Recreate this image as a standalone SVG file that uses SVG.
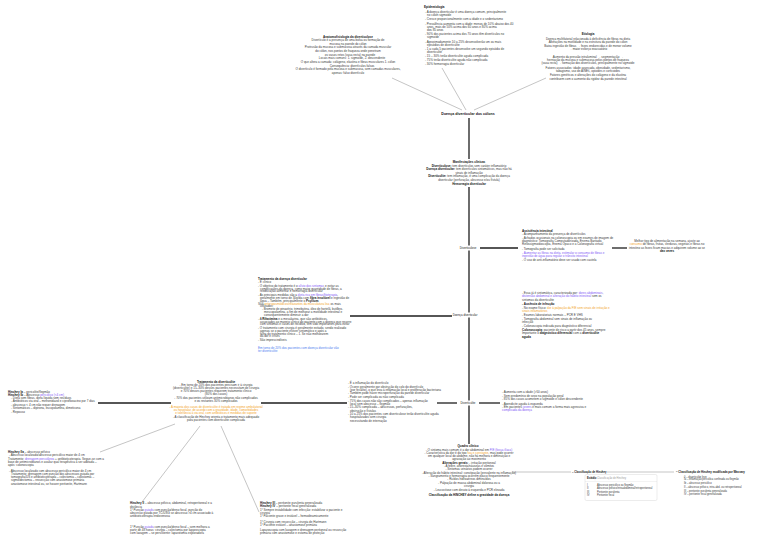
<svg xmlns="http://www.w3.org/2000/svg" width="768" height="544" viewBox="0 0 768 544">
<style>
text{font-family:"Liberation Sans",Arial,sans-serif;font-size:3px;fill:#3a3a3a}
.b{font-weight:bold;fill:#111}
.m{text-anchor:middle}
.pu{fill:#8257f5}
.or{fill:#f2a428}
.bl{fill:#4a7bef}
.g{fill:#9a9a9a}
.lbl{font-size:2.9px;fill:#222}
.ttl{font-size:3.6px;font-weight:bold;fill:#111}
.sm{font-size:2.6px}
.k{stroke:#1e1e1e;stroke-width:1.3;fill:none}
.n{stroke:#8a8a8a;stroke-width:0.5;fill:none}
</style>
<rect width="768" height="544" fill="#fff"/>
<g id="connectors">
<line class="n" x1="442" y1="68" x2="466" y2="110"/>
<line class="n" x1="392" y1="78" x2="462" y2="110"/>
<line class="n" x1="546" y1="78" x2="474" y2="110"/>
<line class="k" x1="469" y1="118" x2="469" y2="159"/>
<line class="k" x1="469" y1="187" x2="469" y2="444"/>
<line class="k" x1="480" y1="248" x2="518" y2="248"/>
<line class="k" x1="612" y1="248" x2="627" y2="248"/>
<line class="k" x1="350" y1="316" x2="452" y2="316"/>
<line class="k" x1="437" y1="403" x2="457" y2="403"/>
<line class="k" x1="261" y1="403" x2="347" y2="403"/>
<line class="k" x1="98" y1="403" x2="171" y2="403"/>
<line class="k" x1="479" y1="403" x2="500" y2="403"/>
<line class="n" x1="100" y1="452" x2="175" y2="424"/>
<line class="n" x1="200" y1="426" x2="142" y2="502"/>
<line class="n" x1="221" y1="426" x2="259" y2="512"/>
<line class="n" x1="512" y1="472" x2="571" y2="472"/>
<line class="n" x1="607" y1="472" x2="674" y2="472"/>
</g>
<g id="titulo"><text x="468" y="115.3" class="ttl m">Doença diverticular dos cólons</text></g>
<g id="epidemiologia">
<text x="424" y="8" class="b">Epidemiologia</text>
<text x="425" y="13">- A doença diverticular é uma doença comum, principalmente</text>
<text x="427" y="16.2">no cólon sigmoide</text>
<text x="425" y="20.4">- Cresce proporcionalmente com a idade e o sedentarismo</text>
<text x="425" y="24.6">- Prevalência aumenta com a idade: menos de 10% abaixo dos 40</text>
<text x="427" y="27.8">anos, mais de 50% acima dos 60 anos e 80% acima</text>
<text x="427" y="31">dos 85 anos</text>
<text x="425" y="35.2">- 90% dos pacientes acima dos 70 anos têm divertículos no</text>
<text x="427" y="38.4">sigmoide</text>
<text x="425" y="42.6">- Aproximadamente 10 a 25% desenvolverão um ou mais</text>
<text x="427" y="45.8">episódios de diverticulite</text>
<text x="425" y="50">- 1 a cada 5 pacientes desenvolve um segundo episódio de</text>
<text x="427" y="53.2">diverticulite</text>
<text x="425" y="57.4">- 15 – 30% terão diverticulite aguda complicada</text>
<text x="425" y="60.6">- 75% terão diverticulite aguda não complicada</text>
<text x="425" y="64.8">- 30% hemorragia diverticular</text>
</g>
<g id="anatomofisiologia">
<text x="348" y="37.5" class="b m">Anatomofisiologia da diverticulose</text>
<text x="348" y="41.3" class="m">Divertículo é a presença de uma bolsa ou formação de</text>
<text x="348" y="44.6" class="m">mucosa na parede do cólon</text>
<text x="348" y="48.3" class="m">Protrusão da mucosa e submucosa através da camada muscular</text>
<text x="348" y="51.6" class="m">do cólon, nos pontos de fraqueza onde penetram</text>
<text x="350" y="55.6" class="m">os vasos retos (vasa recta) na parede</text>
<text x="352" y="59.2" class="m">Locais mais comuns: 1. sigmoide, 2. descendente</text>
<text x="348" y="62.6" class="m">O que altera a camada: colágeno, elastina e fibras musculares  1. cólon</text>
<text x="352" y="67" class="m">Consequência: divertículos falsos</text>
<text x="348" y="70.4" class="m">O divertículo é formado pela mucosa e submucosa, sem camadas musculares,</text>
<text x="348" y="74.4" class="m">apenas: falso divertículo</text>
</g>
<g id="etiologia">
<text x="588" y="35" class="b m">Etiologia</text>
<text x="588" y="39.5" class="m">Doença multifatorial relacionada à deficiência de fibras na dieta</text>
<text x="588" y="43" class="m">Alterações na motilidade e na estrutura da parede do cólon</text>
<text x="588" y="46.5" class="m">Baixa ingestão de fibras → fezes endurecidas e de menor volume</text>
<text x="588" y="50" class="m">→ maior esforço evacuatório</text>
<text x="588" y="57.5" class="m">Aumento da pressão intraluminal → segmentação →</text>
<text x="588" y="60.8" class="m">herniação da mucosa e submucosa pelos pontos de fraqueza</text>
<text x="588" y="64.1" class="m">(vasa recta) → formação dos divertículos, principalmente no sigmoide</text>
<text x="588" y="68.5" class="m">Fatores associados: idade avançada, obesidade, sedentarismo,</text>
<text x="588" y="71.8" class="m">tabagismo, uso de AINEs, opioides e corticoides</text>
<text x="588" y="76.2" class="m">Fatores genéticos e alterações do colágeno e da elastina</text>
<text x="588" y="79.5" class="m">contribuem com o aumento da rigidez da parede intestinal</text>
</g>
<g id="manifestacoes">
<text x="469" y="163" class="b m">Manifestações clínicas</text>
<text x="469" y="166.5" class="m"><tspan class="b">Diverticulose:</tspan> tem divertículos sem caráter inflamatório</text>
<text x="469" y="170.3" class="m"><tspan class="b">Doença diverticular:</tspan> tem divertículos sintomáticos, mas não há</text>
<text x="469" y="173.5" class="m">sinais de inflamação</text>
<text x="469" y="177.3" class="m"><tspan class="b">Diverticulite:</tspan> tem inflamação, é uma complicação da doença</text>
<text x="469" y="180.5" class="m">diverticular (perfuração, abscesso e/ou fístula)</text>
<text x="469" y="184.6" class="b m">Hemorragia diverticular</text>
</g>
<g id="diverticulose">
<rect x="457" y="245.5" width="23" height="5" fill="#fff"/>
<text x="468" y="249.1" class="lbl m">Diverticulose</text>
</g>
<g id="assistencia">
<text x="522" y="232" class="b">Assistência intestinal</text>
<text x="522" y="235.3">- Acompanhamento da presença de divertículos</text>
<text x="522" y="238.8">- Achados ocasionais na colonoscopia ou em exames de imagem de</text>
<text x="522" y="241.9">diagnóstico: Tomografia Computadorizada, Enema Baritado,</text>
<text x="522" y="245">Retossigmoidoscopia, Enema Opaco e a Colonografia virtual</text>
<text x="522" y="249.8">- Tomografia pode ser solicitada</text>
<text x="522" y="253.5" class="pu">- Aumentar as fibras na dieta, estimular o consumo de fibras e</text>
<text x="522" y="256.7" class="pu">ingestão de água para regular o trânsito intestinal</text>
<text x="522" y="260.5">- O uso de anti-inflamatório deve ser usado com cautela</text>
</g>
<g id="nota-alimentacao">
<text x="667" y="241.5" class="m">Melhor tipo de alimentação na semana, ajuste ao</text>
<text x="667" y="245" class="m"><tspan class="or">consumo</tspan> de fibras, frutas, verduras, vegetais e fibras no</text>
<text x="667" y="248.5" class="m">intestino as fezes ficam macias e adquirem volume ao se</text>
<text x="667" y="252.3" class="b m">das vezes</text>
</g>
<g id="doenca-diverticular">
<rect x="452" y="312.5" width="27" height="5" fill="#fff"/>
<text x="465" y="316.1" class="lbl m">Doença diverticular</text>
</g>
<g id="diagnostico">
<text x="522" y="294">- Essa já é sintomática, caracterizada por: <tspan class="pu">dores abdominais,</tspan></text>
<text x="522" y="297.4"><tspan class="pu">distensão abdominal e alteração do hábito intestinal</tspan> sem os</text>
<text x="522" y="300.8">sintomas da diverticulite</text>
<text x="522" y="304.6" class="b">- Ausência de infecção</text>
<text x="522" y="308.6">- No exame físico: <tspan class="or">dor à palpação da FIE sem sinais de irritação e</tspan></text>
<text x="522" y="311.9" class="or">sinais inflamatórios</text>
<text x="522" y="316.2">- Exames laboratoriais normais – PCR E VHS</text>
<text x="522" y="319.6">- Tomografia abdominal sem sinais de inflamação ou</text>
<text x="522" y="322.9">infecção</text>
<text x="522" y="327">- Colonoscopia indicada para diagnóstico diferencial</text>
<text x="522" y="330.8"><tspan class="b">Colonoscopia:</tspan> paciente de risco a partir dos 45 anos, sempre</text>
<text x="522" y="334.4">Importante o <tspan class="b">diagnóstico diferencial</tspan> com a <tspan class="b">diverticulite</tspan></text>
<text x="522" y="338.4" class="b">aguda</text>
</g>
<g id="tratamento-doenca">
<text x="258" y="280" class="b">Tratamento da doença diverticular</text>
<text x="258" y="283.3">- É clínico</text>
<text x="258" y="286.8">- O objetivo do tratamento é o <tspan class="pu">alívio dos sintomas</tspan> e evitar as</text>
<text x="260" y="289.6">complicações da doença, como maior quantidade de fibras, a</text>
<text x="260" y="292.4">reeducação alimentar e hemorragia diverticular</text>
<text x="258" y="296">- As principais medidas são a <tspan class="pu">dieta rica em fibras/fitoterapia</tspan>,</text>
<text x="260" y="298.8">geralmente em torno de 30g/dia com <tspan class="b">fibra insolúvel</tspan> e ingestão de</text>
<text x="260" y="301.6">água – Também, principalmente o <tspan class="b">Psyllium</tspan>.</text>
<text x="258" y="304.6">São <tspan class="or">antiespasmódicos/relaxantes da musculatura lisa</tspan> os mais</text>
<text x="260" y="307.4">utilizados:</text>
<text x="262" y="310.4">- Brometo de pinavério, trimebutina, óleo de hortelã, butilbro-</text>
<text x="264" y="313.2">mescopolamina, a fim de melhorar a motilidade intestinal e</text>
<text x="264" y="316">consequentemente diminuir a dor</text>
<text x="258" y="319.8">- A <tspan class="b">Rifaximina</tspan> e a mesalazina, que são antibióticos,</text>
<text x="260" y="322.6">associados ao manejo clínico do paciente com a doença que recorre</text>
<text x="260" y="325.4">com sintomas e casos de recidiva, têm sido importantes para evitar</text>
<text x="258" y="329">- O tratamento com cirurgia é geralmente evitado, sendo realizado</text>
<text x="260" y="331.8">apenas se o paciente estiver sintomático e após a</text>
<text x="260" y="334.6">falha do tratamento clínico – 1. Se não melhorarem</text>
<text x="260" y="337.4">da dor e crises</text>
<text x="258" y="341">- São imprescindíveis</text>
<text x="258" y="348.8" class="bl">Em torno de 20% dos pacientes com doença diverticular vão</text>
<text x="258" y="351.8" class="bl">ter diverticulite</text>
</g>
<g id="diverticulite">
<rect x="457" y="400.5" width="22" height="5" fill="#fff"/>
<text x="468" y="404.1" class="lbl m">Diverticulite</text>
</g>
<g id="inflamacao">
<text x="348" y="384">- É a inflamação do divertículo</text>
<text x="348" y="387.6">- Ocorre geralmente por obstrução do colo do divertículo</text>
<text x="350" y="390.8">(por fecalito), o que leva à inflamação local e proliferação bacteriana</text>
<text x="348" y="394.4">- Também pode haver microperfuração da parede diverticular</text>
<text x="348" y="398">- Pode ser complicada ou não complicada</text>
<text x="348" y="401.6">- 75% dos casos não são complicados – apenas inflamação</text>
<text x="350" y="404.8">local sem abscesso – flegmão</text>
<text x="348" y="408.4">- 15–30% complicada – abscessos, perfurações,</text>
<text x="350" y="411.6">obstrução e fístulas</text>
<text x="348" y="415.2">- 10 a 25% dos pacientes com diverticulose terão diverticulite aguda</text>
<text x="350" y="418.4">hospitalizados sem cirurgia</text>
<text x="350" y="422">necessitando de internação</text>
</g>
<g id="idade">
<text x="502" y="393">- Aumenta com a idade (&gt;50 anos)</text>
<text x="502" y="397">- Sem predomínio de sexo na população geral</text>
<text x="502" y="400.2">- 85% dos casos acometem o sigmoide e cólon descendente</text>
<text x="502" y="404.6">- Apendicite aguda à esquerda</text>
<text x="502" y="408">- Em pacientes <tspan class="pu">jovens</tspan> é mais comum a forma mais agressiva e</text>
<text x="502" y="411.4" class="pu">complicada da doença</text>
</g>
<g id="tratamento-diverticulite">
<text x="216" y="383" class="b m">Tratamento da diverticulite</text>
<text x="216" y="386.3" class="m">- Em torno de 20% dos pacientes precisam ir à cirurgia</text>
<text x="216" y="389.3" class="m">(diverticulite) e 15–30% desses pacientes necessitam de cirurgia</text>
<text x="216" y="392.3" class="m">e 70% desses pacientes requerem tratamento clínico</text>
<text x="216" y="395.3" class="m">(80% dos casos)</text>
<text x="216" y="398.6" class="m">- 70% dos pacientes utilizam antimicrobianos não complicados</text>
<text x="216" y="401.6" class="m">e os restantes 30% complicados</text>
<text x="216" y="407.6" class="or m">- A maioria dos casos de diverticulite é tratada em regime ambulatorial</text>
<text x="216" y="410.6" class="or m">ou hospitalar, de acordo com a gravidade, idade, comorbidades</text>
<text x="216" y="413.8" class="or m">e tolerância à via oral, com antibióticos e medidas de suporte</text>
<text x="216" y="417.8" class="m">- A classificação de Hinchey orienta o tratamento mais adequado</text>
<text x="216" y="421" class="m">para pacientes com diverticulite complicada</text>
</g>
<g id="hinchey-ia">
<text x="8" y="393"><tspan class="b">Hinchey Ia</tspan> – pericolite/flegmão</text>
<text x="8" y="396"><tspan class="b">Hinchey Ib</tspan> – Abscesso <tspan class="pu">pericólico (&lt;4 cm)</tspan></text>
<text x="11" y="399.4">- Dieta sem fibras, dieta líquida sem resíduos</text>
<text x="11" y="402.4">- Antibióticos via oral – metronidazol e ciprofloxacino por 7 dias</text>
<text x="11" y="405.8">- abscesso &lt; 4 cm não requer drenagem</text>
<text x="11" y="408.8">- Sintomáticos – dipirona, escopolamina, dimeticona</text>
<text x="11" y="412.6">- Repouso</text>
</g>
<g id="hinchey-iia">
<text x="8" y="453"><tspan class="b">Hinchey IIa</tspan> – abscesso pélvico</text>
<text x="9" y="456">- Abscesso localizado/abscesso pericólico maior de 4 cm</text>
<text x="8" y="459.6">Tratamento: <tspan class="pu">drenagem percutânea</tspan> + antibioticoterapia. Segue-se com a</text>
<text x="8" y="462.6">base de antimicrobianos e avaliar qual terapêutica a ser adotada –</text>
<text x="8" y="465.6">após: colonoscopia</text>
<text x="9" y="472.4">- Abscesso localizado com abscesso pericólico maior de 4 cm</text>
<text x="11" y="475.4">Tratamento: drenagem com punção dos abscessos guiada por</text>
<text x="11" y="478.4">tomografia/US e antibioticoterapia – colectomia – colostomia –</text>
<text x="11" y="481.4">sigmoidectomia – ressecção com anastomose primária</text>
<text x="11" y="485">anastomose intestinal ou, se houver peritonite, Hartmann</text>
</g>
<g id="hinchey-ii">
<text x="130" y="504"><tspan class="b">Hinchey II</tspan> – abscesso pélvico, abdominal, retroperitoneal e a</text>
<text x="130" y="507.6">distância</text>
<text x="130" y="511.4">1º Punção <tspan class="pu">guiada</tspan> com punção/dreno focal, punção do</text>
<text x="130" y="514.4">abscesso guiada por TC/USG se abscesso &gt;4 cm associado à</text>
<text x="130" y="517.4">antibioticoterapia endovenosa</text>
<text x="130" y="527.6">1º Punção <tspan class="pu">guiada</tspan> com punção/dreno focal – sem melhora a</text>
<text x="130" y="531">partir de 48 horas: cirurgia – colectomia por laparoscopia</text>
<text x="130" y="534.4">com lavagem – se persistente: laparotomia exploradora</text>
</g>
<g id="hinchey-iii-iv">
<text x="260" y="504"><tspan class="b">Hinchey III</tspan> – peritonite purulenta generalizada</text>
<text x="260" y="507.4"><tspan class="b">Hinchey IV</tspan> – peritonite fecal generalizada</text>
<text x="260" y="510.8">1º Sempre instabilidade com infecção: estabilizar o paciente e</text>
<text x="260" y="513.8">cirurgia</text>
<text x="260" y="517.4">1º Paciente grave e instável – hemodinamicamente</text>
<text x="260" y="523.4">1º Cirurgia com ressecção – cirurgia de Hartmann</text>
<text x="260" y="526.4">1º Paciente estável – anastomose primária</text>
<text x="260" y="531.4">Laparoscopia com lavagem e drenagem peritoneal ou ressecção</text>
<text x="260" y="534.4">primária com anastomose e estoma de proteção</text>
</g>
<g id="quadro-clinico">
<text x="468" y="447" class="b m">Quadro clínico</text>
<text x="469" y="450.6" class="m">- O sintoma mais comum é a dor abdominal em <tspan class="pu">FIE (fossa ilíaca)</tspan></text>
<text x="469" y="454.4" class="m">- Característica da dor é do tipo <tspan class="or">fixa e constante</tspan>, mas pode ocorrer</text>
<text x="469" y="457.4" class="m">em qualquer local do abdome, não há melhora e diminuição e</text>
<text x="469" y="460.4" class="m">agravação ao movimento</text>
<text x="469" y="463.8" class="m"><tspan class="b">Alterações gerais:</tspan> - irritação peritoneal</text>
<text x="469" y="466.8" class="m">- A febre, anorexia/náuseas e vômitos</text>
<text x="469" y="469.8" class="m">- Sintomas urinários podem ocorrer</text>
<text x="469" y="474" class="m">- Alteração do hábito intestinal: constipação (prevalente na inflamação)</text>
<text x="469" y="477" class="m">- Sangramento e hemorragia ocorrem pouco frequentemente</text>
<text x="469" y="480.4" class="m">- Ruídos hidroaéreos diminuídos</text>
<text x="469" y="484" class="m">- Palpação de massa abdominal dolorosa ou a</text>
<text x="469" y="487" class="m">cirurgia</text>
<text x="469" y="491" class="m">- Leucocitose com desvio à esquerda e PCR elevada</text>
<text x="469" y="496.4" class="b m">Classificação da HINCHEY define a gravidade da doença</text>
</g>
<g id="classificacao-hinchey">
<text x="572" y="473" class="b" style="font-size:2.7px">– Classificação de Hinchey</text>
<rect x="585" y="474.5" width="72" height="26" rx="1.5" fill="#fff" stroke="#cfcfcf" stroke-width="0.4"/>
<line x1="585" y1="481.5" x2="657" y2="481.5" stroke="#d5d5d5" stroke-width="0.3"/>
<line x1="595" y1="475.5" x2="595" y2="480.5" stroke="#d5d5d5" stroke-width="0.3"/>
<text x="587" y="479" class="sm b">Estádio</text>
<text x="597" y="479" class="sm g">Classificação de Hinchey</text>
<text x="587" y="485.6" class="sm">I</text><text x="597" y="485.6" class="sm">Abscesso pericólico ou flegmão</text>
<text x="587" y="489.2" class="sm">II</text><text x="597" y="489.2" class="sm">Abscesso pélvico/intraabdominal/retroperitoneal</text>
<text x="587" y="492.8" class="sm">III</text><text x="597" y="492.8" class="sm">Peritonite purulenta</text>
<text x="587" y="496.4" class="sm">IV</text><text x="597" y="496.4" class="sm">Peritonite fecal</text>
</g>
<g id="wasvary">
<text x="676" y="473" class="b" style="font-size:2.8px">– Classificação de Hinchey modificada por Wasvary</text>
<text x="684" y="477.6" class="sm">0 – diverticulite leve</text>
<text x="684" y="480.4" class="sm">Ia – inflamação pericólica confinada ou flegmão</text>
<text x="684" y="484" class="sm">Ib – abscesso pericólico</text>
<text x="684" y="487.6" class="sm">II – abscesso pélvico, intra-abd. ou retroperitoneal</text>
<text x="684" y="492" class="sm">III – peritonite purulenta generalizada</text>
<text x="684" y="494.8" class="sm">IV – peritonite fecal generalizada</text>
</g>
</svg>
